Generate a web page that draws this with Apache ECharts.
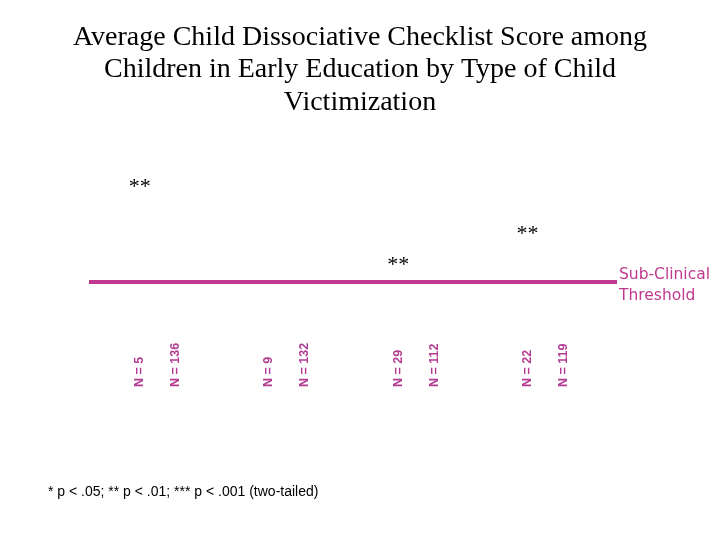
<!DOCTYPE html>
<html>
<head>
<meta charset="utf-8">
<script src="https://cdn.jsdelivr.net/npm/echarts@6/dist/echarts.min.js"></script>
<style>html,body{margin:0;padding:0;background:#fff;}#c{width:720px;height:540px;}</style>
</head>
<body>
<div id="c"></div>
<script>
// ---- data ----
const groups = ['Type 1', 'Type 2', 'Type 3', 'Type 4'];
const victimN = [5, 9, 29, 22];
const comparisonN = [136, 132, 112, 119];
// bar heights (bars are not visible in the reference)
const victimScore = [17.6, 6.8, 10.5, 13.3];
const comparisonScore = [6.5, 6.4, 6.3, 6.6];
const victimSig = ['**', '', '**', '**'];
const comparisonSig = ['', '', '', ''];
const thresholdValue = 10;
const thresholdLabel = 'Sub-Clinical\nThreshold';
const titleText = 'Average Child Dissociative Checklist Score among\nChildren in Early Education by Type of Child\nVictimization';
const footnote = '* p < .05; ** p < .01; *** p < .001 (two-tailed)';

const magenta = '#C0398F';
const labelColor = '#B23C92';
const clear = 'rgba(0,0,0,0)';

function nLabel(arr) {
  return {
    show: true, position: 'insideBottom', rotate: 90, align: 'left', verticalAlign: 'middle',
    distance: 5, color: labelColor, fontFamily: 'Liberation Sans', fontWeight: 'bold', fontSize: 12.5,
    formatter: p => 'N = ' + arr[p.dataIndex]
  };
}
function sigLabel(arr) {
  return {
    show: true, position: 'top', distance: 0, color: '#000', fontFamily: 'Liberation Serif', fontSize: 22,
    formatter: p => arr[p.dataIndex]
  };
}
const barCommon = { type: 'bar', barWidth: 27, barGap: '33%', itemStyle: { color: clear }, silent: true };

const chart = echarts.init(document.getElementById('c'));
chart.setOption({
  animation: false,
  backgroundColor: '#fff',
  title: [
    { text: titleText, left: 'center', top: 16,
      textStyle: { fontFamily: 'Liberation Serif', fontSize: 28, fontWeight: 'normal', color: '#000', lineHeight: 32.5 } },
    { text: footnote, left: 43, top: 480,
      textStyle: { fontFamily: 'Liberation Sans', fontSize: 14, fontWeight: 'normal', color: '#000' } }
  ],
  grid: [
    { left: 93, right: 110, top: 117, bottom: 148 },
    { left: 89, right: 103, top: 117, bottom: 148 }
  ],
  xAxis: [
    { type: 'category', data: groups, gridIndex: 0, show: false },
    { type: 'category', data: groups, gridIndex: 0, show: false },
    { type: 'value', min: 0, max: 1, gridIndex: 1, show: false }
  ],
  yAxis: [
    { type: 'value', min: 0, max: 25, gridIndex: 0, show: false },
    { type: 'value', min: 0, max: 25, gridIndex: 1, show: false }
  ],
  series: [
    Object.assign({}, barCommon, { name: 'Victimized', xAxisIndex: 0, yAxisIndex: 0, data: victimScore, label: nLabel(victimN) }),
    Object.assign({}, barCommon, { name: 'Comparison', xAxisIndex: 0, yAxisIndex: 0, data: comparisonScore, label: nLabel(comparisonN) }),
    Object.assign({}, barCommon, { name: 'Victimized sig', xAxisIndex: 1, yAxisIndex: 0, data: victimScore, label: sigLabel(victimSig) }),
    Object.assign({}, barCommon, { name: 'Comparison sig', xAxisIndex: 1, yAxisIndex: 0, data: comparisonScore, label: sigLabel(comparisonSig) }),
    {
      type: 'line', name: 'Threshold', xAxisIndex: 2, yAxisIndex: 1, silent: true,
      data: [[0, thresholdValue], [1, thresholdValue]],
      symbol: 'none', lineStyle: { color: magenta, width: 4 },
      endLabel: { show: true, formatter: thresholdLabel, distance: 2, offset: [0, 3], color: magenta,
        fontFamily: 'DejaVu Sans', fontSize: 15.5, lineHeight: 21 }
    }
  ]
});
</script>
</body>
</html>
